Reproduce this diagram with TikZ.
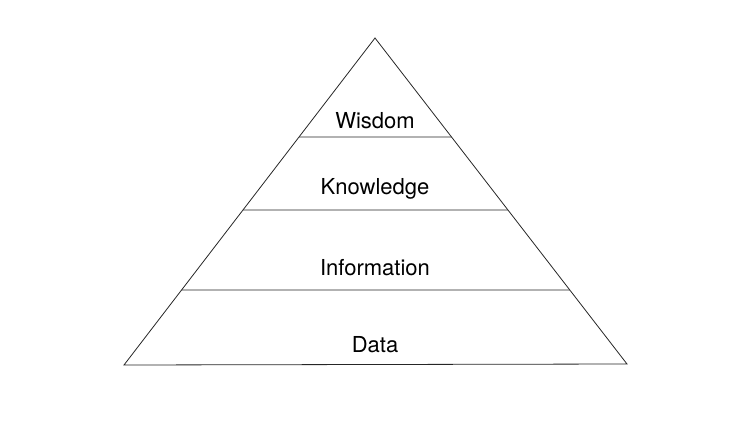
\documentclass[tikz,border=0pt]{standalone}
\usepackage{fontspec}
\setmainfont{TeX Gyre Heros}
\usetikzlibrary{calc}
\begin{document}
\begin{tikzpicture}[x=1pt,y=-1pt,
  edge/.style={draw=black!85,line width=0.8pt},
  lbl/.style={font=\fontsize{22}{26}\selectfont,text=black}]
\useasboundingbox (0,0) rectangle (750,423);
\coordinate (apex) at (375,38);
\coordinate (bl) at (124,365);
\coordinate (br) at (627,364);
\draw[edge] (apex) -- (bl) -- (br) -- cycle;
\foreach \y/\n in {137/a,210/b,290/c}{
  \coordinate (L\n) at ($(apex)!{(\y-38)/327}!(bl)$);
  \coordinate (R\n) at ($(apex)!{(\y-38)/326}!(br)$);
  \draw[edge] (L\n) -- (R\n);
}
\node[lbl] (w) at (375,121) {Wisdom};
\node[lbl] (k) at (375,189) {Knowledge};
\node[lbl] (i) at (375,268) {Information};
\node[lbl] (d) at (375,345) {Data};
\end{tikzpicture}
\end{document}
